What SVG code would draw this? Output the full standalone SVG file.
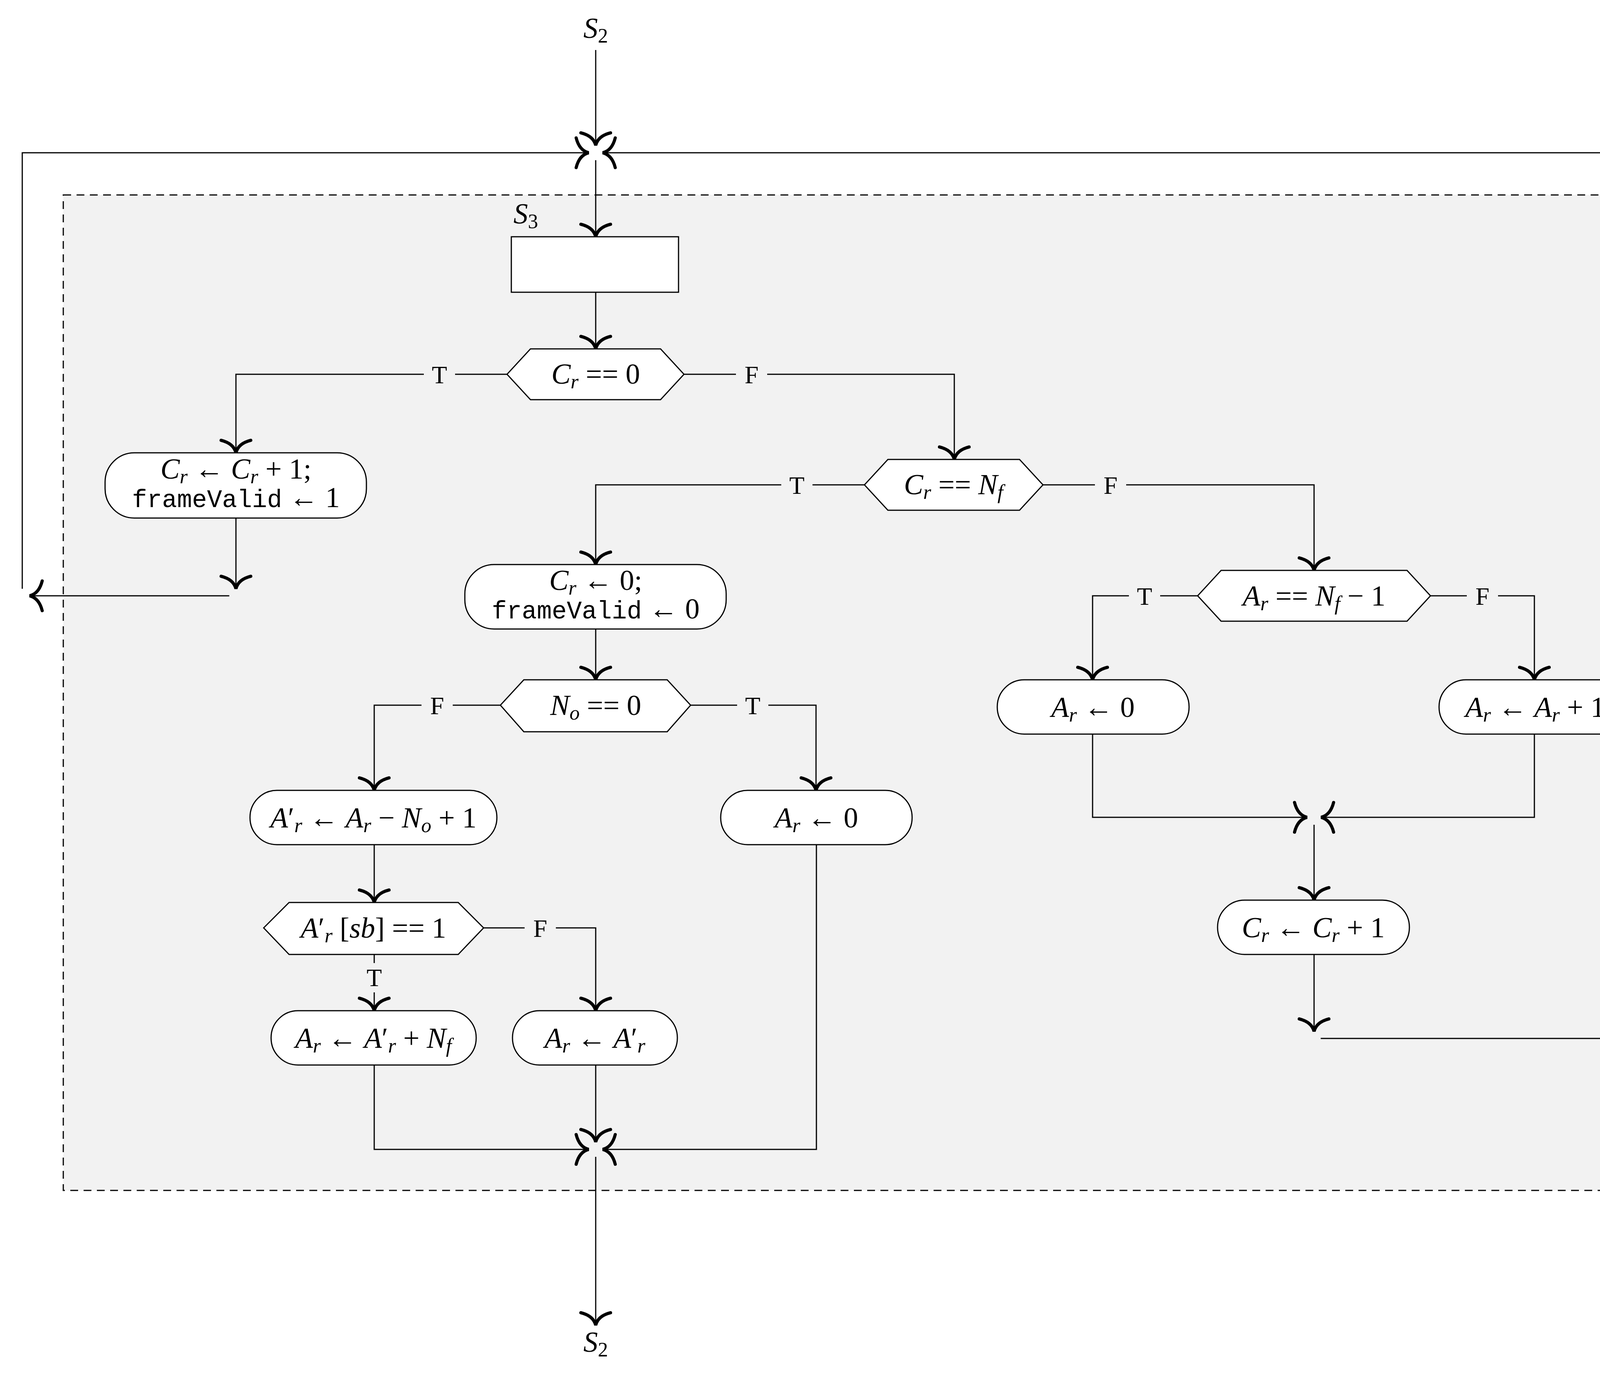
<svg xmlns="http://www.w3.org/2000/svg" width="4443" height="3522" viewBox="0 0 4443 3522">
<style>
.c{fill:none;stroke:#000;stroke-width:3}
.n{fill:#fff;stroke:#000;stroke-width:3}
text{font-family:"Liberation Serif",serif;font-size:74px;text-anchor:middle;fill:#000}
.i{font-style:italic}
.s{font-size:52px}
.mo{font-family:"Liberation Mono",monospace;font-size:64px}
.l{font-size:64px}
</style>
<defs>
<marker id="a" markerUnits="userSpaceOnUse" orient="auto" overflow="visible" markerWidth="10" markerHeight="10" refX="0" refY="0">
<path d="M-32,-38 Q-24,-6 0,0 Q-24,6 -32,38" fill="none" stroke="#000" stroke-width="8" stroke-linecap="round"/>
</marker>
</defs>
<rect x="0" y="0" width="4443" height="3522" fill="#fff"/>
<rect x="162" y="499" width="4117" height="2548" fill="#f2f2f2" stroke="#000" stroke-width="3" stroke-dasharray="20,14"/>
<g id="connectors" class="c">
<path d="M1525,128 V372" marker-end="url(#a)"/>
<path d="M57,1507 V391 H1507" marker-end="url(#a)"/>
<path d="M4388,2640 V391 H1543" marker-end="url(#a)"/>
<path d="M1525,410 V606" marker-end="url(#a)"/>
<path d="M1525,748 V893" marker-end="url(#a)"/>
<path d="M1298,958 H1165"/><path d="M1085,958 H604 V1159" marker-end="url(#a)"/>
<path d="M1751,958 H1884"/><path d="M1964,958 H2443 V1176" marker-end="url(#a)"/>
<path d="M2213,1241 H2080"/><path d="M2000,1241 H1525 V1445" marker-end="url(#a)"/>
<path d="M2670,1241 H2803"/><path d="M2883,1241 H3364 V1460" marker-end="url(#a)"/>
<path d="M604,1326 V1507" marker-end="url(#a)"/>
<path d="M587,1525 H76" marker-end="url(#a)"/>
<path d="M1525,1610 V1740" marker-end="url(#a)"/>
<path d="M1281,1805 H1159"/><path d="M1079,1805 H958 V2023" marker-end="url(#a)"/>
<path d="M1768,1805 H1887"/><path d="M1967,1805 H2089 V2023" marker-end="url(#a)"/>
<path d="M958,2162 V2310" marker-end="url(#a)"/>
<path d="M1238,2375 H1343"/><path d="M1423,2375 H1525 V2587" marker-end="url(#a)"/>
<path d="M958,2443 V2465"/><path d="M958,2540 V2587" marker-end="url(#a)"/>
<path d="M958,2726 V2942 H1507" marker-end="url(#a)"/>
<path d="M1525,2726 V2923" marker-end="url(#a)"/>
<path d="M2090,2162 V2942 H1543" marker-end="url(#a)"/>
<path d="M1525,2961 V3392" marker-end="url(#a)"/>
<path d="M3066,1525 H2970"/><path d="M2890,1525 H2797 V1740" marker-end="url(#a)"/>
<path d="M3662,1525 H3755"/><path d="M3835,1525 H3928 V1740" marker-end="url(#a)"/>
<path d="M2797,1879 V2092 H3346" marker-end="url(#a)"/>
<path d="M3928,1879 V2092 H3382" marker-end="url(#a)"/>
<path d="M3364,2111 V2304" marker-end="url(#a)"/>
<path d="M3364,2443 V2640" marker-end="url(#a)"/>
<path d="M3381,2658 H4369" marker-end="url(#a)"/>
</g>
<g id="labels" class="l">
<text class="l" x="1125" y="981">T</text>
<text class="l" x="1924" y="981">F</text>
<text class="l" x="2040" y="1264">T</text>
<text class="l" x="2843" y="1264">F</text>
<text class="l" x="1119" y="1828">F</text>
<text class="l" x="1927" y="1828">T</text>
<text class="l" x="1383" y="2398">F</text>
<text class="l" x="958" y="2524">T</text>
<text class="l" x="2930" y="1548">T</text>
<text class="l" x="3795" y="1548">F</text>
</g>
<g id="s2top"><text x="1525" y="97"><tspan class="i">S</tspan><tspan class="s" dy="12">2</tspan></text></g>
<g id="s3"><rect class="n" x="1309" y="606" width="428" height="142"/><text x="1346" y="572"><tspan class="i">S</tspan><tspan class="s" dy="12">3</tspan></text></g>
<g id="d1"><polygon class="n" points="1298,958 1358,893 1691,893 1751,958 1691,1023 1358,1023"/>
<text x="1525" y="982"><tspan class="i">C</tspan><tspan class="s i" dy="12">r</tspan><tspan dy="-12"> == 0</tspan></text></g>
<g id="b1"><rect class="n" x="269" y="1159" width="669" height="167" rx="75"/>
<text x="604" y="1225"><tspan class="i">C</tspan><tspan class="s i" dy="12">r</tspan><tspan dy="-12"> ← </tspan><tspan class="i">C</tspan><tspan class="s i" dy="12">r</tspan><tspan dy="-12"> + 1;</tspan></text>
<text x="604" y="1298"><tspan class="mo">frameValid</tspan> ← 1</text></g>
<g id="d2"><polygon class="n" points="2213,1241 2273,1176 2610,1176 2670,1241 2610,1306 2273,1306"/>
<text x="2441" y="1265"><tspan class="i">C</tspan><tspan class="s i" dy="12">r</tspan><tspan dy="-12"> == </tspan><tspan class="i">N</tspan><tspan class="s i" dy="12">f</tspan></text></g>
<g id="b2"><rect class="n" x="1190" y="1445" width="669" height="165" rx="75"/>
<text x="1525" y="1510"><tspan class="i">C</tspan><tspan class="s i" dy="12">r</tspan><tspan dy="-12"> ← 0;</tspan></text>
<text x="1525" y="1583"><tspan class="mo">frameValid</tspan> ← 0</text></g>
<g id="d3"><polygon class="n" points="1281,1805 1341,1740 1708,1740 1768,1805 1708,1873 1341,1873"/>
<text x="1525" y="1830"><tspan class="i">N</tspan><tspan class="s i" dy="12">o</tspan><tspan dy="-12"> == 0</tspan></text></g>
<g id="b3"><rect class="n" x="640" y="2023" width="632" height="139" rx="69"/>
<text x="956" y="2118"><tspan class="i">A</tspan>′<tspan class="s i" dy="12">r</tspan><tspan dy="-12"> ← </tspan><tspan class="i">A</tspan><tspan class="s i" dy="12">r</tspan><tspan dy="-12"> − </tspan><tspan class="i">N</tspan><tspan class="s i" dy="12">o</tspan><tspan dy="-12"> + 1</tspan></text></g>
<g id="b4"><rect class="n" x="1845" y="2023" width="490" height="139" rx="69"/>
<text x="2090" y="2118"><tspan class="i">A</tspan><tspan class="s i" dy="12">r</tspan><tspan dy="-12"> ← 0</tspan></text></g>
<g id="d4"><polygon class="n" points="675,2375 740,2310 1173,2310 1238,2375 1173,2443 740,2443"/>
<text x="956" y="2400"><tspan class="i">A</tspan>′<tspan class="s i" dy="12">r</tspan><tspan dy="-12"> [</tspan><tspan class="i">sb</tspan>] == 1</text></g>
<g id="b5"><rect class="n" x="694" y="2587" width="525" height="139" rx="69"/>
<text x="956" y="2682"><tspan class="i">A</tspan><tspan class="s i" dy="12">r</tspan><tspan dy="-12"> ← </tspan><tspan class="i">A</tspan>′<tspan class="s i" dy="12">r</tspan><tspan dy="-12"> + </tspan><tspan class="i">N</tspan><tspan class="s i" dy="12">f</tspan></text></g>
<g id="b6"><rect class="n" x="1312" y="2587" width="422" height="139" rx="69"/>
<text x="1523" y="2682"><tspan class="i">A</tspan><tspan class="s i" dy="12">r</tspan><tspan dy="-12"> ← </tspan><tspan class="i">A</tspan>′<tspan class="s i" dy="12">r</tspan></text></g>
<g id="d5"><polygon class="n" points="3066,1525 3126,1460 3602,1460 3662,1525 3602,1590 3126,1590"/>
<text x="3364" y="1550"><tspan class="i">A</tspan><tspan class="s i" dy="12">r</tspan><tspan dy="-12"> == </tspan><tspan class="i">N</tspan><tspan class="s i" dy="12">f</tspan><tspan dy="-12"> − 1</tspan></text></g>
<g id="b7"><rect class="n" x="2553" y="1740" width="491" height="139" rx="69"/>
<text x="2798" y="1835"><tspan class="i">A</tspan><tspan class="s i" dy="12">r</tspan><tspan dy="-12"> ← 0</tspan></text></g>
<g id="b8"><rect class="n" x="3684" y="1740" width="491" height="139" rx="69"/>
<text x="3930" y="1835"><tspan class="i">A</tspan><tspan class="s i" dy="12">r</tspan><tspan dy="-12"> ← </tspan><tspan class="i">A</tspan><tspan class="s i" dy="12">r</tspan><tspan dy="-12"> + 1</tspan></text></g>
<g id="b9"><rect class="n" x="3117" y="2304" width="491" height="139" rx="69"/>
<text x="3362" y="2399"><tspan class="i">C</tspan><tspan class="s i" dy="12">r</tspan><tspan dy="-12"> ← </tspan><tspan class="i">C</tspan><tspan class="s i" dy="12">r</tspan><tspan dy="-12"> + 1</tspan></text></g>
<g id="s2bot"><text x="1525" y="3460"><tspan class="i">S</tspan><tspan class="s" dy="12">2</tspan></text></g>
</svg>
